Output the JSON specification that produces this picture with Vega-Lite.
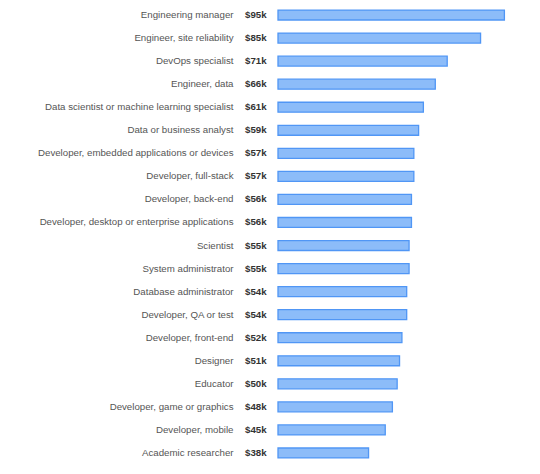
{
  "$schema": "https://vega.github.io/schema/vega-lite/v6.json",
  "autosize": {"type": "none"},
  "padding": {"left": 278, "top": 3.5, "right": 2, "bottom": 9.5},
  "width": 260,
  "height": 461,
  "background": "white",
  "data": {
    "values": [
      {"role": "Engineering manager", "salary": 95, "label": "$95k"},
      {"role": "Engineer, site reliability", "salary": 85, "label": "$85k"},
      {"role": "DevOps specialist", "salary": 71, "label": "$71k"},
      {"role": "Engineer, data", "salary": 66, "label": "$66k"},
      {"role": "Data scientist or machine learning specialist", "salary": 61, "label": "$61k"},
      {"role": "Data or business analyst", "salary": 59, "label": "$59k"},
      {"role": "Developer, embedded applications or devices", "salary": 57, "label": "$57k"},
      {"role": "Developer, full-stack", "salary": 57, "label": "$57k"},
      {"role": "Developer, back-end", "salary": 56, "label": "$56k"},
      {"role": "Developer, desktop or enterprise applications", "salary": 56, "label": "$56k"},
      {"role": "Scientist", "salary": 55, "label": "$55k"},
      {"role": "System administrator", "salary": 55, "label": "$55k"},
      {"role": "Database administrator", "salary": 54, "label": "$54k"},
      {"role": "Developer, QA or test", "salary": 54, "label": "$54k"},
      {"role": "Developer, front-end", "salary": 52, "label": "$52k"},
      {"role": "Designer", "salary": 51, "label": "$51k"},
      {"role": "Educator", "salary": 50, "label": "$50k"},
      {"role": "Developer, game or graphics", "salary": 48, "label": "$48k"},
      {"role": "Developer, mobile", "salary": 45, "label": "$45k"},
      {"role": "Academic researcher", "salary": 38, "label": "$38k"}
    ]
  },
  "encoding": {
    "y": {
      "field": "role",
      "type": "nominal",
      "sort": null,
      "title": null,
      "scale": {"paddingInner": 0.57, "paddingOuter": 0.285},
      "axis": {
        "domain": false,
        "ticks": false,
        "labelPadding": 45,
        "labelFont": "Liberation Sans",
        "labelFontSize": 9.7,
        "labelColor": "#555555",
        "labelLimit": 300
      }
    }
  },
  "layer": [
    {
      "mark": {"type": "bar", "fill": "#8cbcf9", "stroke": "#5096f5", "strokeWidth": 1.3},
      "encoding": {
        "x": {
          "field": "salary",
          "type": "quantitative",
          "scale": {"domain": [0, 109.1], "nice": false},
          "axis": null
        }
      }
    },
    {
      "mark": {
        "type": "text",
        "align": "left",
        "baseline": "middle",
        "dx": -33,
        "font": "Liberation Sans",
        "fontSize": 9.7,
        "fontWeight": "bold",
        "color": "#333333"
      },
      "encoding": {
        "x": {"datum": 0, "type": "quantitative"},
        "text": {"field": "label", "type": "nominal"}
      }
    }
  ],
  "config": {"view": {"stroke": null}}
}
